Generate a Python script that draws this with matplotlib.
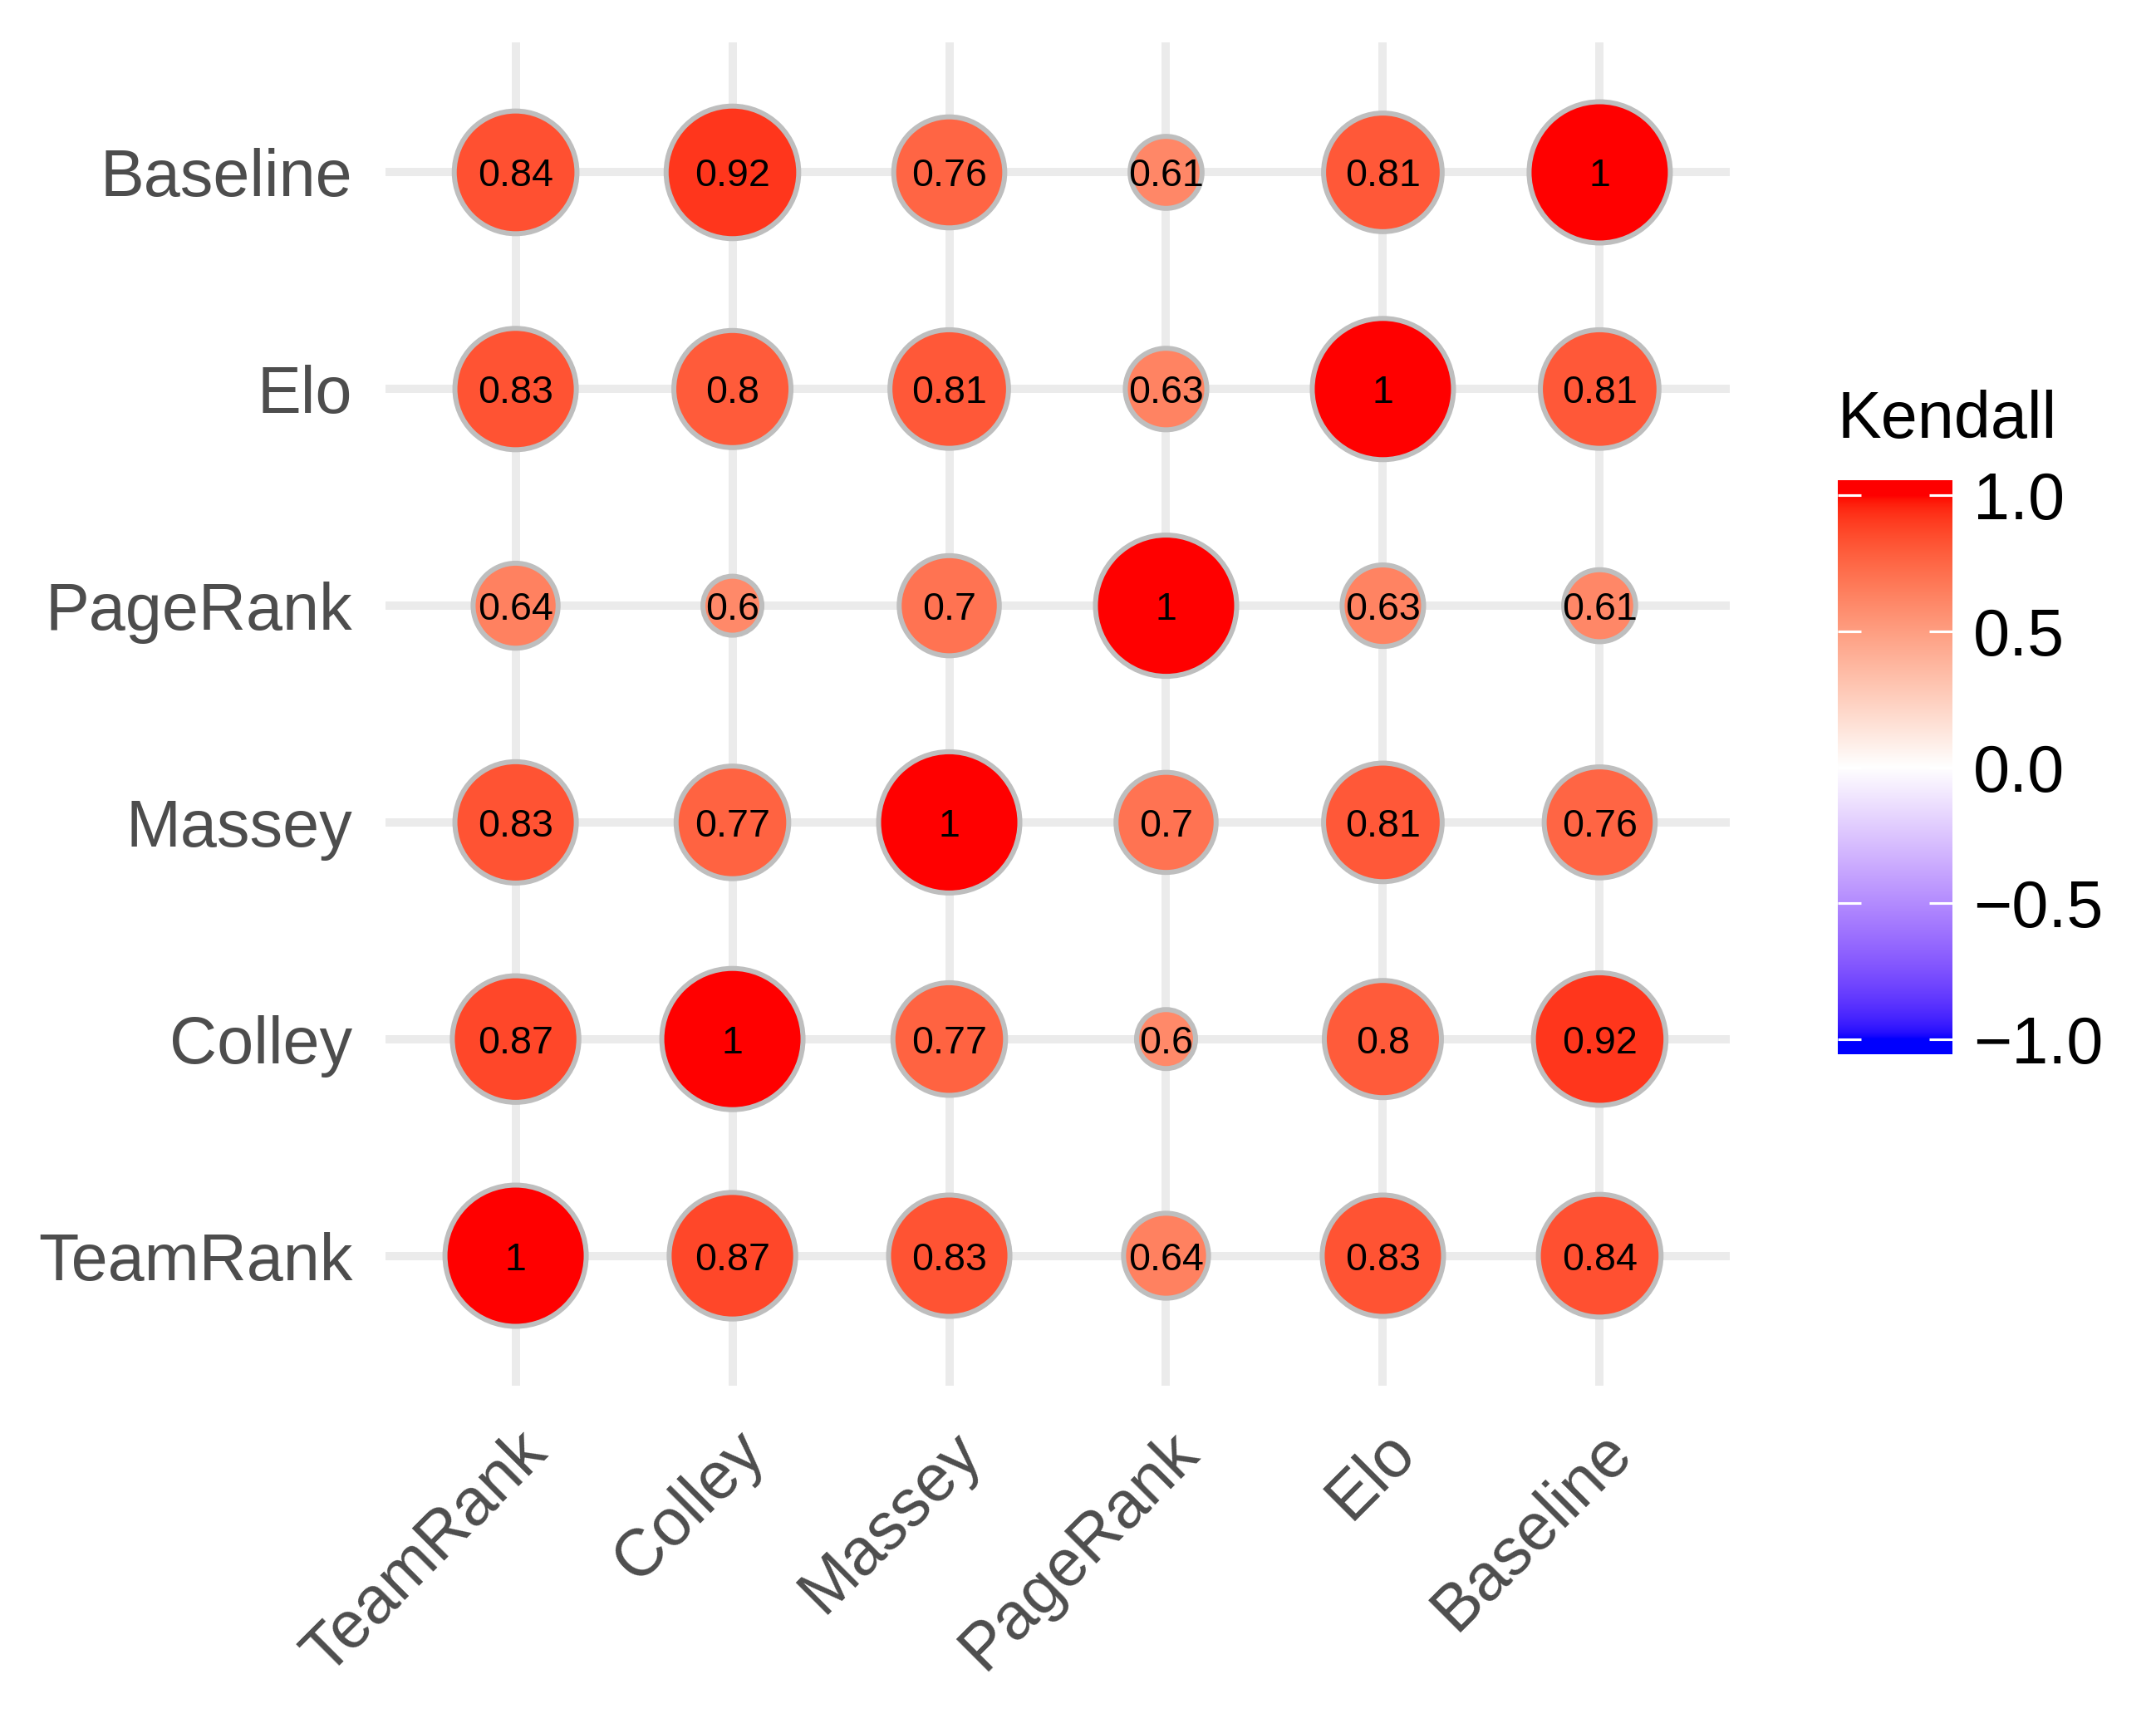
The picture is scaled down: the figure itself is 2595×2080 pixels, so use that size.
import numpy as np
import matplotlib
matplotlib.use("Agg")
import matplotlib.pyplot as plt

# Kendall rank correlation between the ranking methods
methods = ["TeamRank", "Colley", "Massey", "PageRank", "Elo", "Baseline"]
kendall = [
    [1.00, 0.87, 0.83, 0.64, 0.83, 0.84],
    [0.87, 1.00, 0.77, 0.60, 0.80, 0.92],
    [0.83, 0.77, 1.00, 0.70, 0.81, 0.76],
    [0.64, 0.60, 0.70, 1.00, 0.63, 0.61],
    [0.83, 0.80, 0.81, 0.63, 1.00, 0.81],
    [0.84, 0.92, 0.76, 0.61, 0.81, 1.00],
]
legend_ticks = [1.0, 0.5, 0.0, -0.5, -1.0]
legend_labels = ["1.0", "0.5", "0.0", "\u22120.5", "\u22121.0"]

plt.rcParams['font.family'] = ['Liberation Sans', 'DejaVu Sans']

W, H, DPI = 2595, 2080, 300


# --- colour scale: blue -> white -> red, interpolated in Lab (like ggplot) ---
M = np.array([[0.4124, 0.3576, 0.1805],
              [0.2126, 0.7152, 0.0722],
              [0.0193, 0.1192, 0.9505]])
WHITE_REF = np.array([0.95047, 1.0, 1.08883])


def srgb_to_lab(rgb):
    c = np.asarray(rgb, dtype=float)
    lin = np.where(c <= 0.04045, c / 12.92, ((c + 0.055) / 1.055) ** 2.4)
    xyz = lin @ M.T / WHITE_REF
    d = 6 / 29
    f = np.where(xyz > d ** 3, np.cbrt(xyz), xyz / (3 * d * d) + 4 / 29)
    L = 116 * f[..., 1] - 16
    a = 500 * (f[..., 0] - f[..., 1])
    b = 200 * (f[..., 1] - f[..., 2])
    return np.stack([L, a, b], axis=-1)


def lab_to_srgb(lab):
    lab = np.asarray(lab, dtype=float)
    fy = (lab[..., 0] + 16) / 116
    fx = fy + lab[..., 1] / 500
    fz = fy - lab[..., 2] / 200
    f = np.stack([fx, fy, fz], axis=-1)
    d = 6 / 29
    xyz = np.where(f > d, f ** 3, 3 * d * d * (f - 4 / 29)) * WHITE_REF
    lin = xyz @ np.linalg.inv(M).T
    lin = np.clip(lin, 0, 1)
    c = np.where(lin <= 0.0031308, 12.92 * lin, 1.055 * lin ** (1 / 2.4) - 0.055)
    return np.clip(c, 0, 1)


LOW = srgb_to_lab([0, 0, 1])
MID = srgb_to_lab([1, 1, 1])
HIGH = srgb_to_lab([1, 0, 0])


def gradient2(v):
    v = np.clip(np.asarray(v, dtype=float), -1, 1)[..., None]
    lab = np.where(v >= 0, MID + v * (HIGH - MID), MID + (-v) * (LOW - MID))
    return lab_to_srgb(lab)


# --- main panel ---
fig = plt.figure(figsize=(W / DPI, H / DPI), dpi=DPI)
ax = fig.add_axes([464 / W, 1 - 1668 / H, 1618 / W, 1617 / H])

n = len(methods)
vals = np.array(kendall)
xs, ys = np.meshgrid(np.arange(n), np.arange(n))
xs, ys, vv = xs.ravel(), ys.ravel(), vals.ravel()

# point size like scale_size(range): diameter grows with sqrt of rescaled |r|
av = np.abs(vv)
r = (av - av.min()) / (av.max() - av.min())
d_out_px = 77 + 99 * np.sqrt(r)
edge_px = 6.0
d_pt = (d_out_px - edge_px) * 72 / DPI

ax.scatter(xs, ys, s=d_pt ** 2, c=gradient2(vv), edgecolors="#BEBEBE",
           linewidths=edge_px * 72 / DPI, zorder=3)

for x, y, v in zip(xs, ys, vv):
    ax.text(x, y, f"{v:g}", ha="center", va="center_baseline",
            fontsize=11.2, color="black", zorder=4)

ax.set_xlim(-0.6, n - 0.4)
ax.set_ylim(-0.6, n - 0.4)
ax.set_xticks(range(n))
ax.set_yticks(range(n))
ax.set_xticklabels(methods, rotation=45, ha="right", va="top",
                   rotation_mode="anchor")
ax.set_yticklabels(methods)
ax.tick_params(length=0, labelsize=19, labelcolor="#4D4D4D")
ax.tick_params(axis="y", pad=9.5)
ax.tick_params(axis="x", pad=10)
ax.grid(True, color="#EBEBEB", linewidth=2.4)
ax.set_axisbelow(True)
for sp in ax.spines.values():
    sp.set_visible(False)

# --- colour bar legend ---
cax = fig.add_axes([2212 / W, 1 - 1269 / H, 138 / W, 691 / H])
ext = 1.055
grad = np.linspace(-ext, ext, 400)
img = gradient2(grad)[:, None, :]
cax.imshow(img, origin="lower", extent=[0, 1, -ext, ext], aspect="auto")
cax.set_xlim(0, 1)
cax.set_ylim(-ext, ext)
cax.set_xticks([])
cax.set_yticks(legend_ticks)
cax.set_yticklabels(legend_labels)
cax.tick_params(axis="y", direction="in", length=6.7, width=0.75,
                color="white", left=True, right=True, labelleft=False,
                labelright=True, labelsize=19, pad=6)
for sp in cax.spines.values():
    sp.set_visible(False)

fig.text(2212 / W, 1 - 527 / H, "Kendall", fontsize=19, ha="left",
         va="baseline")

fig.savefig("out.png", dpi=DPI)
